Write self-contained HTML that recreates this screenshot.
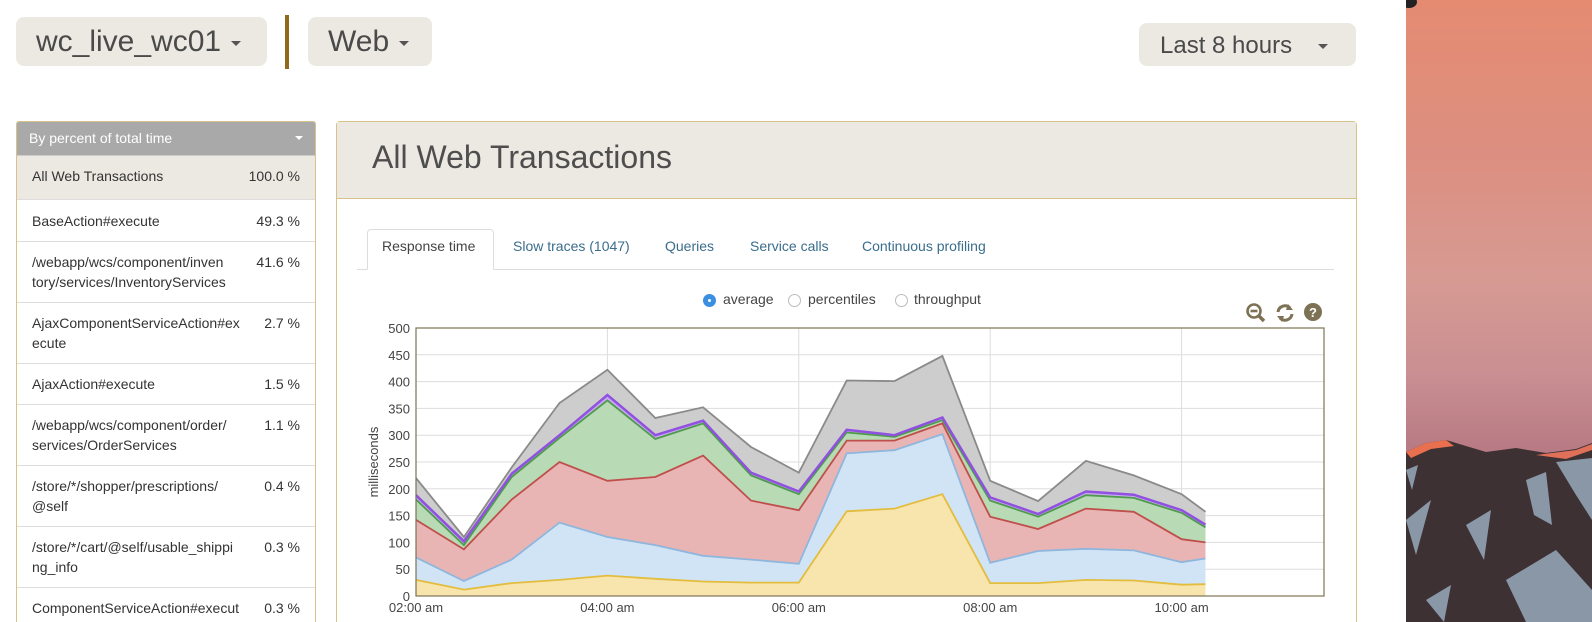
<!DOCTYPE html>
<html><head><meta charset="utf-8">
<style>
*{margin:0;padding:0;box-sizing:border-box}
html,body{width:1592px;height:622px;overflow:hidden}
body{background:#fff;font-family:"Liberation Sans",sans-serif;position:relative}
#wrap{position:absolute;left:0;top:0;width:1592px;height:622px;overflow:hidden}
.abs{position:absolute}
.btn{position:absolute;background:#ece9e2;border-radius:8px;color:#4a4a4a;font-size:30px;line-height:49px;padding-left:20px}
.caret{display:inline-block;width:0;height:0;border-left:5px solid transparent;border-right:5px solid transparent;border-top:5px solid #555;vertical-align:middle;margin-left:10px}
.side{position:absolute;left:16px;top:121px;width:300px;height:501px;border:1px solid #d8c28a;border-bottom:none;border-radius:3px 3px 0 0;overflow:hidden}
.row{position:absolute;left:0;width:298px;border-top:1px solid #ddd;font-size:14px;color:#333;line-height:20px}
.row .t{position:absolute;left:15px;width:235px;white-space:nowrap}
.row .p{position:absolute;right:15px}
.tab{position:absolute;top:238px;font-size:14px;color:#3a6d8c}
</style></head><body><div id="wrap">
<div class="btn" style="left:16px;top:17px;width:251px;height:49px">wc_live_wc01<span class="caret"></span></div>
<div class="abs" style="left:285px;top:15px;width:4px;height:54px;background:#8f6a1e"></div>
<div class="btn" style="left:308px;top:17px;width:124px;height:49px">Web<span class="caret"></span></div>
<div class="btn" style="left:1139px;top:23px;width:217px;height:43px;font-size:24px;line-height:45px;padding-left:21px">Last 8 hours<span class="caret" style="margin-left:26px"></span></div>

<div class="side">
 <div class="abs" style="left:0;top:0;width:298px;height:33px;background:#a9a9a9;color:#fff;font-size:14px;line-height:32px;padding-left:12px">By percent of total time<span class="abs" style="right:12px;top:14px;border-left:4px solid transparent;border-right:4px solid transparent;border-top:4px solid #fff"></span></div>
 <div class="row" style="top:33px;height:45px;background:#ece9e2;border-top:1px solid #ccc"><span class="t" style="top:10px">All Web Transactions</span><span class="p" style="top:10px">100.0 %</span></div>
 <div class="row" style="top:77px;height:42px"><span class="t" style="top:11px">BaseAction#execute</span><span class="p" style="top:11px">49.3 %</span></div>
 <div class="row" style="top:119px;height:61px"><span class="t" style="top:10px">/webapp/wcs/component/inven<br>tory/services/InventoryServices</span><span class="p" style="top:10px">41.6 %</span></div>
 <div class="row" style="top:180px;height:62px"><span class="t" style="top:10px">AjaxComponentServiceAction#ex<br>ecute</span><span class="p" style="top:10px">2.7 %</span></div>
 <div class="row" style="top:241px;height:41px"><span class="t" style="top:10px">AjaxAction#execute</span><span class="p" style="top:10px">1.5 %</span></div>
 <div class="row" style="top:282px;height:62px"><span class="t" style="top:10px">/webapp/wcs/component/order/<br>services/OrderServices</span><span class="p" style="top:10px">1.1 %</span></div>
 <div class="row" style="top:343px;height:61px"><span class="t" style="top:10px">/store/*/shopper/prescriptions/<br>@self</span><span class="p" style="top:10px">0.4 %</span></div>
 <div class="row" style="top:404px;height:61px"><span class="t" style="top:10px">/store/*/cart/@self/usable_shippi<br>ng_info</span><span class="p" style="top:10px">0.3 %</span></div>
 <div class="row" style="top:465px;height:61px"><span class="t" style="top:10px">ComponentServiceAction#execut</span><span class="p" style="top:10px">0.3 %</span></div>
</div>

<div class="abs" style="left:336px;top:121px;width:1021px;height:501px;border:1px solid #d8c28a;border-bottom:none;border-radius:4px 4px 0 0">
 <div class="abs" style="left:0;top:0;width:1019px;height:77px;background:#ece9e2;border-bottom:1px solid #d8c28a"></div>
 <div class="abs" style="left:35px;top:17px;font-size:32px;color:#4e4e4e">All Web Transactions</div>
</div>
<div class="abs" style="left:357px;top:269px;width:977px;height:1px;background:#ddd"></div>
<div class="abs" style="left:367px;top:229px;width:127px;height:41px;border:1px solid #ddd;border-bottom:1px solid #fff;border-radius:4px 4px 0 0;background:#fff"></div>
<div class="tab" style="left:382px;color:#444">Response time</div>
<div class="tab" style="left:513px">Slow traces (1047)</div>
<div class="tab" style="left:665px">Queries</div>
<div class="tab" style="left:750px">Service calls</div>
<div class="tab" style="left:862px">Continuous profiling</div>

<div class="abs" style="left:703px;top:294px;width:13px;height:13px;border-radius:50%;background:#3b8fe0"><div class="abs" style="left:5px;top:5px;width:3px;height:3px;border-radius:50%;background:#fff"></div></div>
<div class="abs" style="left:723px;top:291px;font-size:14px;color:#444">average</div>
<div class="abs" style="left:788px;top:294px;width:13px;height:13px;border-radius:50%;border:1px solid #bbb"></div>
<div class="abs" style="left:808px;top:291px;font-size:14px;color:#444">percentiles</div>
<div class="abs" style="left:895px;top:294px;width:13px;height:13px;border-radius:50%;border:1px solid #bbb"></div>
<div class="abs" style="left:914px;top:291px;font-size:14px;color:#444">throughput</div>

<svg class="abs" style="left:1245px;top:302px" width="80" height="22">
 <g fill="none" stroke="#7d7354" stroke-width="2.6"><circle cx="9" cy="9" r="6.5"/><line x1="14" y1="14" x2="19" y2="19" stroke-width="3.5"/><line x1="5.5" y1="9" x2="12.5" y2="9"/></g>
 <g fill="none" stroke="#7d7354" stroke-width="3"><path d="M33 10 A7 7 0 0 1 45 6"/><path d="M47 12 A7 7 0 0 1 35 16"/></g>
 <path d="M43 2 L48 8 L41 8 Z M37 20 L32 14 L39 14 Z" fill="#7d7354"/>
 <circle cx="68" cy="10" r="9" fill="#7d7354"/>
 <text x="68" y="15" font-size="13" font-weight="bold" fill="#fff" text-anchor="middle" font-family="Liberation Sans">?</text>
</svg>

<svg id="ch" class="abs" style="left:0;top:0" width="1400" height="622"></svg>

<div class="abs" style="left:1406px;top:0;width:186px;height:622px;background:linear-gradient(180deg,#e58b72 0%,#dc8f80 25%,#d79a93 45%,#c98f92 60%,#b87a84 72%)">
 <svg width="186" height="622" style="position:absolute;left:0;top:0">
  <ellipse cx="3" cy="2" rx="8" ry="6" fill="#222"/>
  <path d="M0 452 L20 443 L40 440 L60 446 L80 452 L110 448 L140 453 L170 449 L186 443 L186 622 L0 622 Z" fill="#3d3134"/>
  <path d="M0 452 L20 443 L40 440 L48 446 L25 449 L5 458 Z" fill="#e8704e"/>
  <path d="M130 455 L170 450 L186 444 L186 450 L160 459 Z" fill="#e07058"/>
  <path d="M0 470 L12 465 L6 490 Z M150 462 L186 458 L186 520 L170 495 Z M0 520 L25 500 L10 555 Z M120 480 L140 472 L146 525 L128 515 Z M60 525 L85 510 L78 560 Z M100 580 L150 550 L186 590 L186 622 L120 622 Z M20 600 L45 585 L38 622 Z" fill="#9db2c4" opacity="0.8"/>
 </svg>
</div>
</div>
<script>
var L=416,R=1324,T=328,B=596,HX=95.7,X0=416;
function X(i){return i<17?X0+i*HX/2:X0+8.25*HX}
function Y(v){return B-v*(B-T)/500}
var d=[[30,72,142,180,188,220],[12,28,87,95,102,110],[24,68,180,222,228,240],[30,137,250,295,300,360],[38,110,215,365,375,422],[32,95,222,293,300,332],[27,75,262,322,327,352],[25,68,178,225,230,278],[25,60,160,190,195,230],[158,266,290,305,310,402],[163,272,290,297,300,401],[190,302,322,328,333,448],[24,62,148,178,184,215],[24,84,125,148,153,177],[30,88,163,188,195,252],[29,85,157,183,189,225],[21,63,106,155,160,190],[22,70,100,128,133,157]];
var fills=['#f8e4ad','#d0e4f5','#e8b5b4','#b8dbb6','#c8a8f0','#cdcdcd'];
var lines=['#e3bd3e','#8fb6dc','#bf4f4b','#4f9b4d','#9050e0','#8a8a8a'];
var s='';
s+='<rect x="'+L+'" y="'+T+'" width="'+(R-L)+'" height="'+(B-T)+'" fill="#fff"/>';
for(var v=50;v<500;v+=50)s+='<line x1="'+L+'" x2="'+R+'" y1="'+Y(v)+'" y2="'+Y(v)+'" stroke="#ddd"/>';
var labs=['02:00 am','04:00 am','06:00 am','08:00 am','10:00 am'];
for(var k=0;k<5;k++){var x=X0+k*2*HX;if(k>0)s+='<line x1="'+x+'" x2="'+x+'" y1="'+T+'" y2="'+B+'" stroke="#ddd"/>';s+='<text x="'+x+'" y="'+(B+16)+'" font-size="13" fill="#444" text-anchor="middle">'+labs[k]+'</text>';}
for(var j=5;j>=0;j--){var p='';for(var i=0;i<d.length;i++)p+=(i?'L':'M')+X(i).toFixed(1)+' '+Y(d[i][j]).toFixed(1);
 var base=X(d.length-1).toFixed(1)+' '+B+'L'+X0+' '+B+'Z';
 s+='<path d="'+p+'L'+base+'" fill="'+fills[j]+'"/>';}
for(var j=0;j<6;j++){var p='';for(var i=0;i<d.length;i++)p+=(i?'L':'M')+X(i).toFixed(1)+' '+Y(d[i][j]).toFixed(1);
 s+='<path d="'+p+'" fill="none" stroke="'+lines[j]+'" stroke-width="'+(j==4?2.5:1.8)+'"/>';}
s+='<rect x="'+L+'" y="'+T+'" width="'+(R-L)+'" height="'+(B-T)+'" fill="none" stroke="#7d7354" stroke-width="1.2"/>';
for(var v=0;v<=500;v+=50)s+='<text x="'+(L-6)+'" y="'+(Y(v)+5)+'" font-size="13" fill="#444" text-anchor="end">'+v+'</text>';
s+='<text transform="translate(378,'+(T+B)/2+') rotate(-90)" font-size="13" fill="#444" text-anchor="middle">milliseconds</text>';
document.getElementById('ch').innerHTML=s;
</script>
</body></html>
